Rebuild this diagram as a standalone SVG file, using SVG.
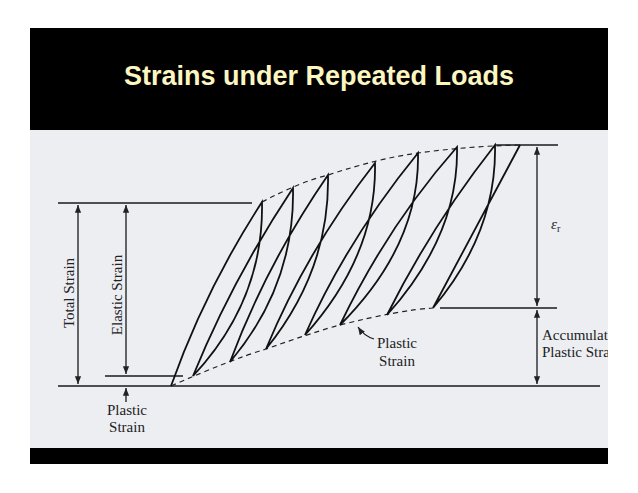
<svg xmlns="http://www.w3.org/2000/svg" width="638" height="493" viewBox="0 0 638 493">
<defs>
<style>
.l{fill:none;stroke:#1a1a1a;stroke-width:1.3}
.c{fill:none;stroke:#111;stroke-width:1.8}
.d{fill:none;stroke:#222;stroke-width:1.2;stroke-dasharray:5 4}
.t{font-family:"Liberation Serif",serif;font-size:15px;fill:#222}
</style>
<marker id="a" viewBox="0 0 10 10" refX="10" refY="5" markerWidth="6" markerHeight="6" orient="auto-start-reverse"><path d="M0,1 L10,5 L0,9 Z" fill="#222"/></marker>
<clipPath id="cp"><rect x="30" y="130" width="578" height="318"/></clipPath>
</defs>
<rect width="638" height="493" fill="#fff"/>
<rect x="30" y="28" width="578" height="436" fill="#000"/>
<text x="319" y="85" text-anchor="middle" font-family="Liberation Sans,Arial,sans-serif" font-weight="bold" font-size="27" fill="#fdf6c0">Strains under Repeated Loads</text>
<rect x="30" y="130" width="578" height="318" fill="#eceef2"/>
<g clip-path="url(#cp)">
<g id="guides">
<line class="l" x1="58" y1="203" x2="252" y2="203"/>
<line class="l" x1="105" y1="376" x2="183" y2="376"/>
<line class="l" x1="58" y1="386" x2="600" y2="386"/>
<line class="l" x1="495" y1="145" x2="558" y2="145"/>
<line class="l" x1="440" y1="308" x2="557" y2="308"/>
<path class="d" d="M262,202 Q300,182 328,175 Q380,158 418,153 Q470,146 520,145"/>
<path class="d" d="M171,386 Q230,360 266,349 Q320,330 340,325 Q400,310 433,308"/>
</g>
<g id="loops">
<path class="c" d="M171,386 Q205,290 262,202 Q264,300 193,376 Q232,280 293,188 Q295,285 230,362 Q266,265 328,175 Q330,270 266,349 Q307,250 375,163 Q377,255 305,335 Q347,240 418,153 Q420,245 340,325 Q388,225 457,147 Q459,235 387,315 Q432,225 495,145 Q497,232 433,308 L520,145"/>
</g>
<g id="arrows">
<line class="l" x1="78" y1="205" x2="78" y2="384" marker-start="url(#a)" marker-end="url(#a)"/>
<line class="l" x1="126" y1="205" x2="126" y2="374" marker-start="url(#a)" marker-end="url(#a)"/>
<line class="l" x1="126" y1="402" x2="126" y2="388" marker-end="url(#a)"/>
<line class="l" x1="537" y1="147" x2="537" y2="306" marker-start="url(#a)" marker-end="url(#a)"/>
<line class="l" x1="537" y1="310" x2="537" y2="384" marker-start="url(#a)" marker-end="url(#a)"/>
<path class="l" d="M374,339 Q364,336 358,327" marker-end="url(#a)"/>
</g>
<g id="labels">
<text class="t" transform="translate(74,293) rotate(-90)" text-anchor="middle">Total Strain</text>
<text class="t" transform="translate(122,295) rotate(-90)" text-anchor="middle">Elastic Strain</text>
<text class="t" x="127" y="415" text-anchor="middle">Plastic</text>
<text class="t" x="127" y="432" text-anchor="middle">Strain</text>
<text class="t" x="397" y="348" text-anchor="middle">Plastic</text>
<text class="t" x="397" y="366" text-anchor="middle">Strain</text>
<text class="t" x="551" y="229" font-style="italic">ε<tspan font-size="10" font-style="normal" dy="3">r</tspan></text>
<text class="t" x="542" y="340">Accumulated</text>
<text class="t" x="542" y="357">Plastic Strain</text>
</g>
</g>
</svg>
